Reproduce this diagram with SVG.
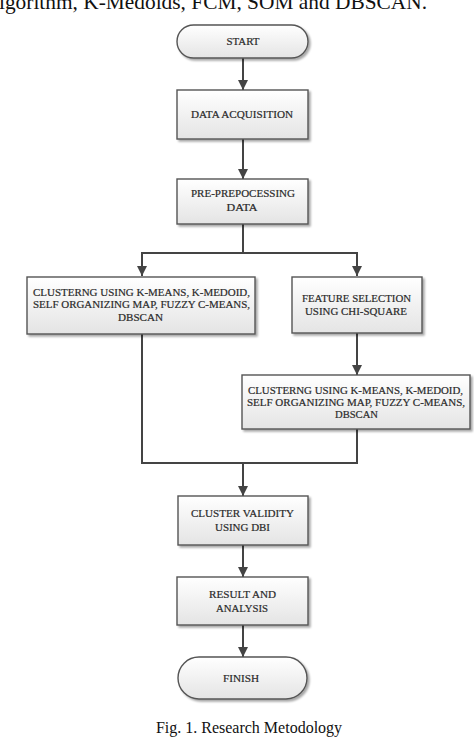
<svg xmlns="http://www.w3.org/2000/svg" width="474" height="737" viewBox="0 0 474 737">
<defs>
<linearGradient id="g" x1="0" y1="0" x2="0" y2="1">
<stop offset="0" stop-color="#ffffff"/>
<stop offset="1" stop-color="#e4e4e4"/>
</linearGradient>
<filter id="sh" x="-10%" y="-10%" width="125%" height="130%">
<feGaussianBlur in="SourceAlpha" stdDeviation="1.2"/>
<feOffset dx="1.5" dy="1.5" result="b"/>
<feComponentTransfer><feFuncA type="linear" slope="0.35"/></feComponentTransfer>
<feMerge><feMergeNode/><feMergeNode in="SourceGraphic"/></feMerge>
</filter>
<marker id="ah" viewBox="0 0 10 10" refX="10" refY="5" markerWidth="5" markerHeight="5" orient="auto" markerUnits="strokeWidth">
<path d="M0,0 L10,5 L0,10 z" fill="#444"/>
</marker>
</defs>
<style>
.n{fill:url(#g);stroke:#555;stroke-width:1.4;filter:url(#sh)}
.t{font-family:"Liberation Serif","Times New Roman",serif;font-size:10.5px;fill:#2a2a2a;stroke:#2a2a2a;stroke-width:0.2;text-anchor:middle}
.c{fill:none;stroke:#444;stroke-width:2}
.a{marker-end:url(#ah)}
.cap{font-family:"Liberation Serif","Times New Roman",serif;fill:#111}
</style>
<rect width="474" height="737" fill="#fff"/>
<text class="cap" x="-1" y="9" font-size="21" textLength="428" lengthAdjust="spacingAndGlyphs">lgorithm, K-Medoids, FCM, SOM and DBSCAN.</text>
<g id="connectors">
<line class="c a" x1="243" y1="58" x2="243" y2="90"/>
<line class="c a" x1="243" y1="139" x2="243" y2="179"/>
<polyline class="c" points="243,224 243,253"/>
<polyline class="c a" points="243,253 142,253 142,276"/>
<polyline class="c a" points="243,253 357,253 357,276"/>
<line class="c a" x1="357" y1="333" x2="357" y2="375"/>
<polyline class="c" points="142,334 142,463 357,463 357,429"/>
<line class="c a" x1="243" y1="463" x2="243" y2="496"/>
<line class="c a" x1="243" y1="545" x2="243" y2="577"/>
<line class="c a" x1="243" y1="625" x2="243" y2="657"/>
</g>
<g id="start">
<rect class="n" x="177" y="25" width="131" height="33" rx="16.5"/>
<text class="t" x="243" y="45" textLength="33" lengthAdjust="spacingAndGlyphs">START</text>
</g>
<g id="data-acquisition">
<rect class="n" x="177" y="90" width="131" height="49"/>
<text class="t" x="242" y="117.5" textLength="102" lengthAdjust="spacingAndGlyphs">DATA ACQUISITION</text>
</g>
<g id="pre-processing">
<rect class="n" x="177" y="179" width="131" height="45"/>
<text class="t" x="243" y="197" textLength="104" lengthAdjust="spacingAndGlyphs">PRE-PREPOCESSING</text>
<text class="t" x="242" y="210.5" textLength="31" lengthAdjust="spacingAndGlyphs">DATA</text>
</g>
<g id="clustering-1">
<rect class="n" x="27" y="277" width="228" height="57"/>
<text class="t" x="141.5" y="295.5" textLength="217" lengthAdjust="spacingAndGlyphs">CLUSTERNG USING K-MEANS, K-MEDOID,</text>
<text class="t" x="141.5" y="308" textLength="217" lengthAdjust="spacingAndGlyphs">SELF ORGANIZING MAP, FUZZY C-MEANS,</text>
<text class="t" x="140.5" y="320.5" textLength="45" lengthAdjust="spacingAndGlyphs">DBSCAN</text>
</g>
<g id="feature-selection">
<rect class="n" x="292" y="277" width="130" height="56"/>
<text class="t" x="356.5" y="301.5" textLength="109" lengthAdjust="spacingAndGlyphs">FEATURE SELECTION</text>
<text class="t" x="356" y="315" textLength="102" lengthAdjust="spacingAndGlyphs">USING CHI-SQUARE</text>
</g>
<g id="clustering-2">
<rect class="n" x="242" y="375" width="228" height="54"/>
<text class="t" x="355.5" y="393.5" textLength="215" lengthAdjust="spacingAndGlyphs">CLUSTERNG USING K-MEANS, K-MEDOID,</text>
<text class="t" x="356" y="405.5" textLength="218" lengthAdjust="spacingAndGlyphs">SELF ORGANIZING MAP, FUZZY C-MEANS,</text>
<text class="t" x="356.5" y="417.5" textLength="43" lengthAdjust="spacingAndGlyphs">DBSCAN</text>
</g>
<g id="cluster-validity">
<rect class="n" x="178" y="496" width="130" height="49"/>
<text class="t" x="242.5" y="517" textLength="103" lengthAdjust="spacingAndGlyphs">CLUSTER VALIDITY</text>
<text class="t" x="242.5" y="531" textLength="55" lengthAdjust="spacingAndGlyphs">USING DBI</text>
</g>
<g id="result">
<rect class="n" x="177" y="577" width="131" height="48"/>
<text class="t" x="242.5" y="598" textLength="67" lengthAdjust="spacingAndGlyphs">RESULT AND</text>
<text class="t" x="242" y="611.5" textLength="52" lengthAdjust="spacingAndGlyphs">ANALYSIS</text>
</g>
<g id="finish">
<rect class="n" x="178" y="657" width="129" height="42" rx="21"/>
<text class="t" x="241" y="682" textLength="36" lengthAdjust="spacingAndGlyphs">FINISH</text>
</g>
<text class="cap" x="249" y="733" font-size="16" text-anchor="middle">Fig. 1. Research Metodology</text>
</svg>
